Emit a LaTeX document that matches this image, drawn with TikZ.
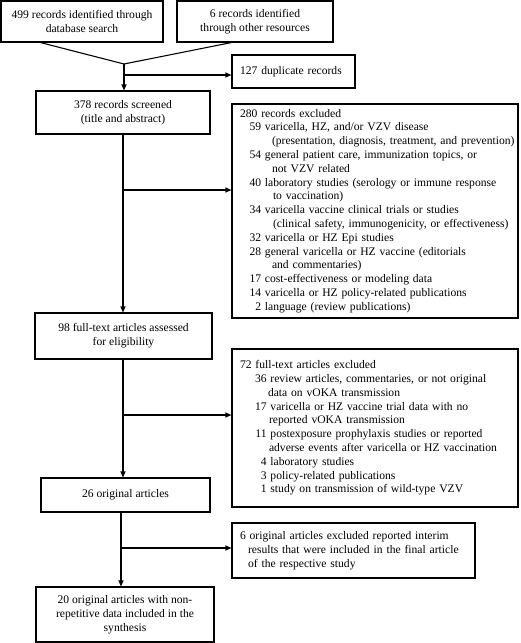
\documentclass[tikz,border=0pt]{standalone}
\usepackage{fontspec}
\setmainfont{Liberation Serif}
\usetikzlibrary{arrows.meta,calc}
\newcommand{\fs}{\fontsize{11.6}{13.8}\selectfont}
\newlength{\nw}\setlength{\nw}{11.6pt}
\newcommand{\It}[2][9.5pt]{\hspace*{#1}\makebox[\nw][r]{#2}\ }
\newcommand{\Cn}[1]{\hspace*{#1}}
\begin{document}
\begin{tikzpicture}[x=1pt,y=-1pt,
  box/.style={draw,line width=1.1pt,inner sep=0pt,align=center,font=\fs},
  lbox/.style={draw,line width=1.1pt,inner xsep=8pt,inner ysep=0pt,align=left,font=\fs},
  ln/.style={line width=1.1pt},
  arr/.style={line width=1.1pt,-{Triangle[length=6pt,width=5pt]}}]
\useasboundingbox (0,0) rectangle (520,643);
\node[box,minimum width=162pt,minimum height=41pt] (b1) at (82,21.5) {499 records identified through\\database search};
\node[box,minimum width=156pt,minimum height=41pt] (b2) at (255,21.5) {6 records identified\\through other resources};
\node[lbox,text width=107pt,minimum height=33pt] (dup) at (293.5,71.5) {127 duplicate records};
\node[box,minimum width=174pt,minimum height=43pt] (b3) at (123,112.5) {378 records screened\\(title and abstract)};
\node[lbox,text width=270pt,minimum height=214pt] (ex1) at (375,211) {280 records excluded\\
\It{59}varicella, HZ, and/or VZV disease\\
\Cn{32pt}\mbox{(presentation, diagnosis, treatment, and prevention)}\\
\It{54}general patient care, immunization topics, or\\
\Cn{32pt}not VZV related\\
\It{40}laboratory studies (serology or immune response\\
\Cn{33pt}to vaccination)\\
\It{34}varicella vaccine clinical trials or studies\\
\Cn{33pt}\mbox{(clinical safety, immunogenicity, or effectiveness)}\\
\It{32}varicella or HZ Epi studies\\
\It{28}general varicella or HZ vaccine (editorials\\
\Cn{32pt}and commentaries)\\
\It{17}cost-effectiveness or modeling data\\
\It{14}varicella or HZ policy-related publications\\
\It{2}language (review publications)};
\node[box,minimum width=177pt,minimum height=46pt] (b4) at (123.5,336) {98 full-text articles assessed\\for eligibility};
\node[lbox,text width=270pt,minimum height=158pt] (ex2) at (375,428) {72 full-text articles excluded\\
\It[15pt]{36}review articles, commentaries, or not original\\
\Cn{28pt}data on vOKA transmission\\
\It[15pt]{17}varicella or HZ vaccine trial data with no\\
\Cn{29pt}reported vOKA transmission\\
\It[15pt]{11}postexposure prophylaxis studies or reported\\
\Cn{29pt}\mbox{adverse events after varicella or HZ vaccination}\\
\It[15pt]{4}laboratory studies\\
\It[15pt]{3}policy-related publications\\
\It[15pt]{1}study on transmission of wild-type VZV};
\node[box,minimum width=169pt,minimum height=34pt] (b5) at (125.5,495) {26 original articles};
\node[lbox,text width=227pt,minimum height=55pt] (ex3) at (353.5,550.5) {6 original articles excluded reported interim\\
\Cn{8pt}results that were included in the final article\\
\Cn{8pt}of the respective study};
\node[box,minimum width=178pt,minimum height=55pt] (b6) at (125,614.5) {20 original articles with non-\\repetitive data included in the\\synthesis};
\coordinate (m1) at (124,64);
\coordinate (j1) at (124,75);
\coordinate (j2) at (123,190);
\coordinate (j3) at (123,415);
\coordinate (j4) at (121,548);
\draw[ln] ($(b1.south west)+(40,0)$) -- (m1);
\draw[ln] ($(b2.south west)+(55,0)$) -- (m1);
\draw[arr] (m1) -- (m1 |- b3.north);
\draw[arr] (j1) -- (j1 -| dup.west);
\draw[arr] (b3.south -| j2) -- (b4.north -| j2);
\draw[arr] (j2) -- (j2 -| ex1.west);
\draw[arr] (b4.south -| j3) -- (b5.north -| j3);
\draw[arr] (j3) -- (j3 -| ex2.west);
\draw[arr] (b5.south -| j4) -- (b6.north -| j4);
\draw[arr] (j4) -- (j4 -| ex3.west);
\end{tikzpicture}
\end{document}
